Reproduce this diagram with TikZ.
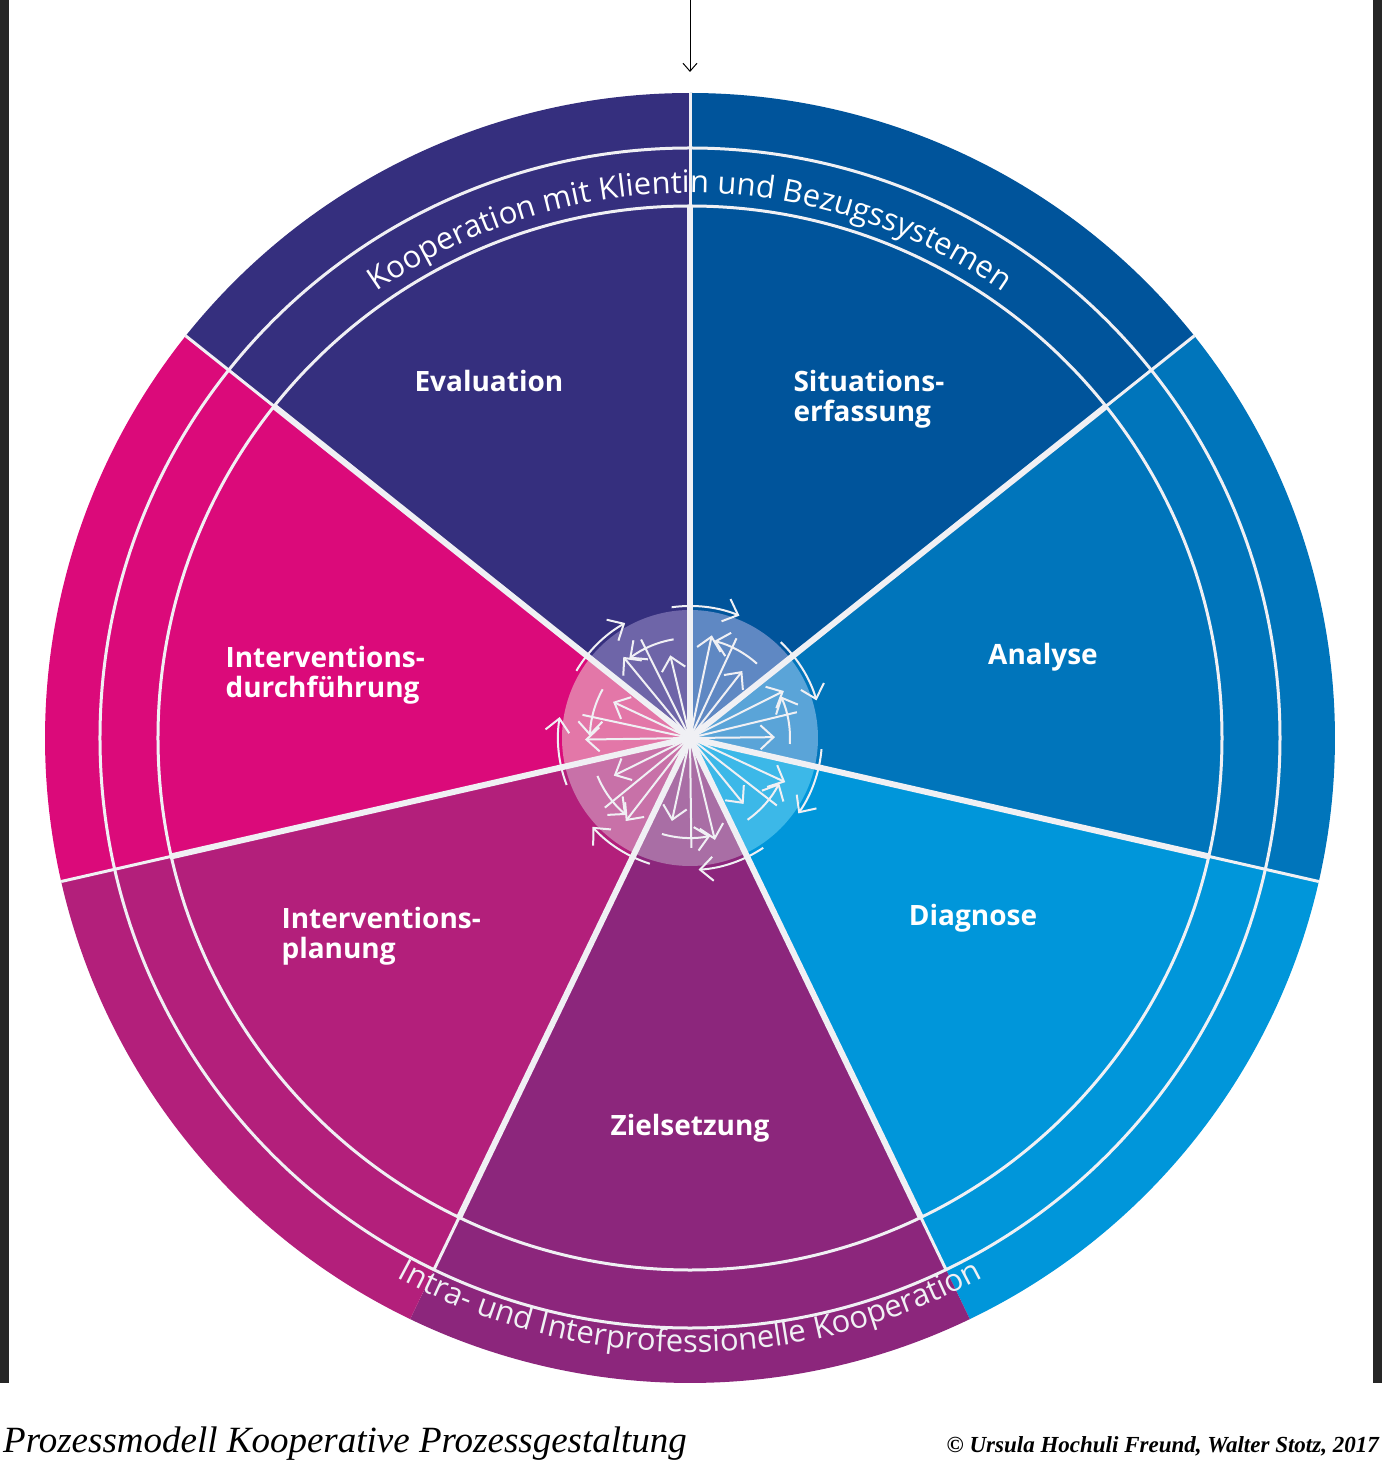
\documentclass[tikz,border=0pt]{standalone}
\usepackage{fontspec}
\setmainfont{Liberation Serif}
\setsansfont{Open Sans}
\usetikzlibrary{decorations.text,arrows.meta}
\definecolor{cA}{HTML}{00549B}\definecolor{cB}{HTML}{0075BB}\definecolor{cC}{HTML}{0096DA}
\definecolor{cD}{HTML}{8C267C}\definecolor{cE}{HTML}{B31F7B}\definecolor{cF}{HTML}{DB0A7A}
\definecolor{cG}{HTML}{352F7E}
\definecolor{tA}{HTML}{5F88C3}\definecolor{tB}{HTML}{5AA4D8}\definecolor{tC}{HTML}{3CB8E8}
\definecolor{tD}{HTML}{A96EA5}\definecolor{tE}{HTML}{C871A8}\definecolor{tF}{HTML}{E377A8}
\definecolor{tG}{HTML}{6E65A8}
\definecolor{wl}{HTML}{F0F0F4}
\begin{document}
\begin{tikzpicture}[x=1pt,y=1pt,
  lab/.style={text=white,font=\sffamily\bfseries\fontsize{28}{36}\selectfont,align=left},
  arr/.style={wl,line width=2pt,-{Straight Barb[length=13pt,width=24pt,line width=2pt]}}]
\useasboundingbox (-690,-726) rectangle (692,738);
\fill[white] (-690,-726) rectangle (692,738);
\fill[black!85] (-690,738) rectangle (-681,-645);
\fill[black!85] (683,738) rectangle (692,-645);
% sectors
\foreach \c/\t [count=\i from 0] in {cA/tA,cB/tB,cC/tC,cD/tD,cE/tE,cF/tF,cG/tG}{
  \pgfmathsetmacro{\a}{90-51.428571*\i}
  \pgfmathsetmacro{\b}{\a-51.428571}
  \fill[\c] (0,0) -- (\a:645) arc[start angle=\a,end angle=\b,radius=645] -- cycle;
  \fill[\t] (0,0) -- (\a:128) arc[start angle=\a,end angle=\b,radius=128] -- cycle;
}
\draw[wl,line width=3pt] (0,0) circle[radius=532];
\draw[wl,line width=3pt] (0,0) circle[radius=590];
% center arrows
\foreach \k in {0,...,6}{
  \pgfmathsetmacro{\a}{90-51.428571*\k}
  \draw[arr] (\a+8:132) arc[start angle=\a+8,end angle=\a-22,radius=132];
  \draw[arr] (\a-42:100) arc[start angle=\a-42,end angle=\a-14,radius=100];
  \draw[arr] (\a-12:0) -- (\a-12:105);
  \draw[wl,line width=2pt] (\a-25:0) -- (\a-25:110);
  \draw[arr] (\a-38:0) -- (\a-38:85);
}
% radial white lines
\foreach \i in {0,...,6}{
  \pgfmathsetmacro{\a}{90-51.428571*\i}
  \draw[wl,line width=6pt] (0,0) -- (\a:532);
}
\foreach \i in {0,1,2,5,6}{
  \pgfmathsetmacro{\a}{90-51.428571*\i}
  \draw[wl,line width=3pt] (\a:532) -- (\a:645);
}
\foreach \i in {3,4}{
  \pgfmathsetmacro{\a}{90-51.428571*\i}
  \draw[wl,line width=3pt] (\a:532) -- (\a:590);
}
\fill[wl] (0,0) circle[radius=5];
% labels
\node[lab,anchor=west] (sit) at (100,339) {Situations-\\[-6pt]erfassung};
\node[lab] (ana) at (353,81) {Analyse};
\node[lab] (dia) at (283,-180) {Diagnose};
\node[lab] (zie) at (0,-390) {Zielsetzung};
\node[lab,anchor=west] (ipl) at (-412,-198) {Interventions-\\[-6pt]planung};
\node[lab,anchor=west] (idf) at (-468,63) {Interventions-\\[-6pt]durchführung};
\node[lab,anchor=west] (eva) at (-279,357) {Evaluation};
% curved texts
\path[decorate,decoration={text along path,text align=center,
  text={|\sffamily\fontsize{31}{34}\selectfont\color{white}|Kooperation mit Klientin und Bezugssystemen}}]
  (160:545) arc[start angle=160,end angle=20,radius=545];
\path[decorate,decoration={text along path,text align=center,
  text={|\sffamily\fontsize{31}{34}\selectfont\color{wl}|Intra- und Interprofessionelle Kooperation}}]
  (-160:614) arc[start angle=-160,end angle=-20,radius=614];
% top arrow
\coordinate (ts) at (0,738);
\coordinate (te) at (0,666);
\draw[black,line width=1pt,-{Straight Barb[length=8pt,width=14pt]}] (ts) -- (te);
% captions
\node[anchor=base west,inner sep=0,font=\itshape\fontsize{37}{40}\selectfont] (cap) at (-687,-714) {Prozessmodell Kooperative Prozessgestaltung};
\node[anchor=base east,inner sep=0,font=\bfseries\itshape\fontsize{23}{26}\selectfont] (cop) at (689,-714) {© Ursula Hochuli Freund, Walter Stotz, 2017};
\end{tikzpicture}
\end{document}
